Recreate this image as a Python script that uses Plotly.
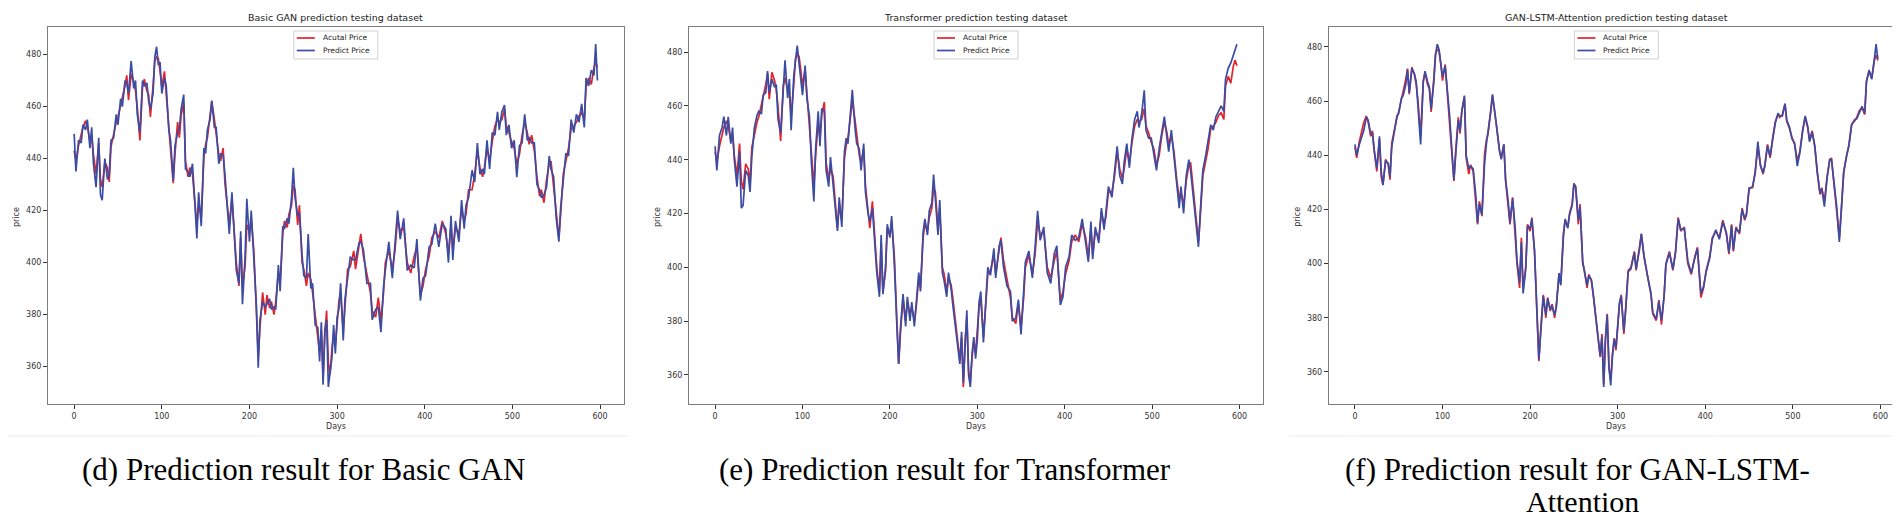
import plotly.graph_objects as go

# sampled days of the testing set
days = [0, 2, 5, 8, 10, 13, 15, 18, 20, 22,
        25, 28, 30, 32, 35, 38, 40, 42, 45, 48,
        50, 53, 55, 58, 60, 62, 65, 68, 70, 72,
        75, 78, 80, 83, 85, 87, 90, 92, 94, 96,
        98, 100, 103, 105, 108, 110, 113, 115, 118, 120,
        122, 125, 127, 130, 132, 135, 138, 140, 142, 145,
        148, 150, 152, 155, 157, 160, 162, 165, 167, 170,
        172, 175, 177, 180, 183, 185, 188, 190, 192, 195,
        197, 200, 202, 205, 208, 210, 212, 215, 218, 220,
        223, 225, 228, 230, 233, 235, 238, 240, 243, 245,
        248, 250, 252, 255, 257, 260, 262, 265, 267, 270,
        272, 275, 278, 280, 282, 284, 286, 288, 290, 292,
        294, 296, 298, 300, 302, 304, 307, 309, 312, 315,
        319, 321, 325, 327, 330, 334, 338, 340, 344, 347,
        350, 353, 355, 359, 363, 366, 369, 372, 376, 380,
        384, 388, 391, 395, 398, 401, 405, 408, 412, 416,
        420, 424, 427, 430, 432, 435, 439, 442, 445, 447,
        450, 454, 457, 460, 463, 466, 468, 471, 474, 477,
        480, 483, 485, 488, 491, 493, 496, 499, 502, 505,
        508, 511, 514, 517, 519, 522, 525, 528, 531, 533,
        536, 539, 542, 544, 547, 550, 553, 555, 558, 561,
        564, 567, 570, 573, 576, 579, 582, 584, 587, 590,
        593, 595, 597]

actual_price = [443, 439, 445, 449, 452, 454.5, 452.5, 447, 449, 441.5,
                434, 446, 432, 429, 438.5, 436.5, 431, 444.5, 449.5, 454,
                456, 460.5, 462.5, 468, 472, 462.5, 472.5, 469.5, 466, 460,
                447, 467.5, 470.5, 466, 464.5, 456, 468, 477.5, 479, 478.5,
                473.5, 467.5, 473.5, 465, 454, 444, 430.5, 441.5, 454, 448,
                456.5, 461.5, 439, 433, 436.5, 434, 424, 414.5, 423, 417.5,
                440.5, 445.5, 448, 457.5, 462, 455, 449, 441.5, 439, 444,
                430.5, 422, 414.5, 424.5, 411, 400, 391, 409.5, 391, 398.5,
                414.5, 412, 417, 404.5, 380, 364, 375, 388.5, 380, 387.5,
                382.5, 385, 380, 385, 396, 392.5, 411, 416, 413.5, 418.5,
                422, 429.5, 428, 414.5, 422, 400, 397.5, 391, 396, 393.5,
                388.5, 380, 372.5, 365.5, 374, 355.5, 372.5, 381.5, 361.5, 357,
                366.5, 372.5, 368, 376, 385, 388.5, 374, 383, 397.5, 398.5,
                404.5, 397.5, 406, 411, 402.5, 395, 388.5, 381.5, 379, 386.5,
                377.5, 388.5, 400, 404.5, 397.5, 404.5, 417, 412, 413.5, 400,
                396, 402.5, 406, 387.5, 391, 397.5, 402.5, 409.5, 412, 409.5,
                416, 411, 403.5, 414.5, 404.5, 413.5, 411, 420.5, 416, 418.5,
                428, 428, 434, 443, 436.5, 433, 436.5, 444, 439, 446.5,
                452.5, 455, 454, 455, 459, 452.5, 450, 446.5, 444, 438,
                441.5, 449, 454, 450, 445.5, 449, 443, 433, 425.5, 428,
                423, 432, 438, 439, 429.5, 420.5, 409.5, 418.5, 434, 439,
                444, 451.5, 452.5, 454, 456.5, 457.5, 455, 467.5, 471, 468.5,
                475, 477, 475]

pred_gan = [449.5, 435, 447, 446, 453, 451, 455, 444, 452, 438,
            429, 448, 426, 424, 440, 432, 434, 447, 448, 457,
            453, 463, 460, 470, 469, 465, 477.5, 467, 470, 457,
            450, 470, 468, 469, 462, 459, 465, 479, 483, 476,
            477, 465, 471, 468, 451, 447, 431.5, 445, 450, 451,
            459, 464.6, 436, 435, 433, 438, 421, 409.3, 427, 414,
            444, 442, 451, 455, 462.3, 452, 452, 438, 442, 441,
            434, 418, 411, 427, 409.7, 397, 392, 412, 384, 402,
            424.5, 408, 420, 401, 383, 359.6, 378, 385, 383, 384,
            386, 382, 383, 382, 399, 389, 414, 413, 417, 415,
            425, 436.4, 425, 418, 419, 403, 395, 394, 411, 390,
            392, 376, 375, 362, 377, 353, 374, 378, 352.2, 358,
            363, 376, 365, 379, 382, 392, 370, 386, 395, 402,
            401, 401, 407.5, 408, 405, 392, 392, 378, 382, 383,
            373.2, 391, 397, 408, 394, 408, 420, 409, 417, 397,
            399, 398, 409, 385.4, 394, 395, 406, 407, 415, 406,
            415, 413, 400, 418, 401, 416, 408, 424, 413, 422,
            425, 435.5, 431, 446, 434, 436, 434, 447, 436, 450,
            449, 458, 451, 458, 460.6, 449, 453, 444, 447, 432.8,
            445, 446, 457, 447, 448, 446, 446, 430, 428, 425,
            426, 429, 441, 436, 433, 417, 408, 421, 431, 442,
            441, 455, 450, 457, 454, 461, 452, 471, 468, 474,
            472, 484, 470]

pred_transformer = [445, 436, 449, 452, 456, 449, 456, 446, 452, 440,
                    430, 443, 422, 423, 436, 434, 428, 441, 452, 456.5,
                    458, 457, 464, 465, 473, 465, 470, 467, 468, 455,
                    450, 465, 477, 463, 470, 451, 471, 477, 482.5, 476,
                    471, 464, 475, 463, 456, 440, 424.5, 444, 458, 445,
                    459, 458, 436, 430, 441, 431, 421, 413.5, 426, 415,
                    443, 448, 446, 459, 466, 452, 446, 444, 436, 446,
                    428, 420, 417, 422, 409, 398, 389, 412, 390, 400,
                    416, 411, 419, 402, 378, 364, 377, 390, 378, 389,
                    380, 387, 378, 387, 398, 391, 413, 418, 412, 421,
                    424, 434.5, 426, 412, 425, 398, 395, 389, 398, 392,
                    386, 378, 370, 364, 376, 357, 370, 384, 360, 355.5,
                    368, 374, 366, 373, 387, 391, 372, 385, 400, 397,
                    407, 396, 408, 410, 400, 393, 391, 380, 381, 388,
                    375, 391, 402, 406, 396, 407, 421, 410, 415, 398,
                    394, 405, 408, 386, 389, 400, 404, 412, 410, 411,
                    418, 409, 402, 417, 403, 415, 409, 422, 414, 420,
                    430, 426, 436, 445, 434, 431, 439, 446, 437, 448,
                    455, 458, 452, 457, 465.8, 451, 448, 448, 442, 436,
                    444, 451, 456, 448, 443, 451, 441, 431, 422, 430,
                    420, 434, 440, 436, 427, 418, 407.6, 420, 436, 441,
                    447, 453, 451, 456, 458, 460, 458, 470, 474, 476,
                    479, 481, 483]

pred_attention = [444, 440, 444, 447, 449, 454, 453, 448, 448, 442,
                  435, 447, 434, 429, 438, 437, 432, 443, 449, 454.5,
                  455.5, 461, 462, 466, 471.5, 463, 472, 470, 467, 459,
                  444, 467, 471, 467, 465, 457, 467, 477, 481, 479,
                  474, 469, 473, 466, 455, 445, 431, 440, 453, 449,
                  456, 462, 440, 435, 436, 435, 425, 415, 422, 418,
                  437, 444, 448.5, 456, 462.5, 456, 450, 442, 438.5, 444,
                  431, 423, 415, 424, 413, 401, 393, 408, 389, 398,
                  414, 413, 416.5, 405, 381, 364.5, 374, 388, 381, 387,
                  383, 384.5, 381, 384, 396.5, 392, 410, 416.5, 413, 418,
                  421.5, 429.5, 428.5, 416, 421, 401, 397, 392, 395.5, 394,
                  389, 381, 373, 366, 373, 354.5, 372, 381, 362, 355,
                  366, 372, 369, 379, 385.5, 388, 375, 382.5, 397, 398,
                  404, 398, 405.5, 411, 403, 395.5, 389, 382, 379.5, 386,
                  379, 388, 399.5, 404, 398, 404, 416.5, 412.5, 413, 401,
                  396.5, 402, 405.5, 389, 391.5, 397, 402, 409, 412.5, 409,
                  415.5, 411.5, 404, 414, 405, 413, 411.5, 420, 416.5, 418,
                  427.5, 428.5, 433.5, 445, 436, 433.5, 436, 443.5, 439.5, 446,
                  452, 455.5, 454.5, 454.5, 459, 453, 450.5, 446, 444.5, 436,
                  441, 448.5, 454.5, 450.5, 445, 448.5, 443.5, 433.5, 426, 427.5,
                  421, 431.5, 438.5, 438.5, 430, 421, 408, 418, 433.5, 439.5,
                  443.5, 451, 453, 453.5, 456, 458, 455.5, 467, 471.5, 468,
                  475.5, 481, 475.5]

titles = ["Basic GAN prediction testing dataset",
          "Transformer prediction testing dataset",
          "GAN-LSTM-Attention prediction testing dataset"]
captions = ["(d) Prediction result for Basic GAN",
            "(e) Prediction result for Transformer",
            "(f) Prediction result for GAN-LSTM-"]
x_ticks = [0, 100, 200, 300, 400, 500, 600]
y_ticks = [360, 380, 400, 420, 440, 460, 480]

W, H = 1900, 518
RED = "#e3232b"
BLUE = "#3a4ca3"
SPINE = "#7c7c7c"
FONT = "DejaVu Sans"
SERIF = "Liberation Serif"


def px(x, y):
    return x / W, 1 - y / H


def label(x, y, text, size, family=FONT, color="#222", xanchor="center", angle=0):
    # place a text centred vertically on pixel position (x, y)
    return dict(x=x / W, y=1 - y / H, xref="paper", yref="paper", text=text,
                showarrow=False, xanchor=xanchor, yanchor="middle", textangle=angle,
                font=dict(family=family, size=size, color=color))


# pixel boxes of the three plot areas (left, right)
panels = [(40, 615.6), (681, 1255), (1320.8, 1896)]
top_px, bottom_px = 19, 396
caption_x = [295, 936.5, 1569.5]
preds = [pred_gan, pred_transformer, pred_attention]

fig = go.Figure()
shapes = []
annotations = []

xpad = 0.05 * (max(days) - min(days))

for i, (left, right) in enumerate(panels):
    n = "" if i == 0 else str(i + 1)
    pred = preds[i]
    fig.add_trace(go.Scatter(x=days, y=actual_price, mode="lines", name="Acutal Price",
                             line=dict(color=RED, width=1.7), xaxis="x" + n, yaxis="y" + n,
                             showlegend=False))
    fig.add_trace(go.Scatter(x=days, y=pred, mode="lines", name="Predict Price",
                             line=dict(color=BLUE, width=1.7), xaxis="x" + n, yaxis="y" + n,
                             showlegend=False))

    lo = min(min(actual_price), min(pred))
    hi = max(max(actual_price), max(pred))
    ypad = 0.05 * (hi - lo)

    axis_common = dict(showgrid=False, zeroline=False, showline=True, linecolor=SPINE,
                       linewidth=1, mirror=True, ticks="outside", ticklen=4,
                       tickcolor="#333", tickfont=dict(family=FONT, size=8, color="#333"))
    fig.update_layout({
        "xaxis" + n: dict(domain=[left / W, right / W], anchor="y" + n,
                          range=[min(days) - xpad, max(days) + xpad],
                          tickvals=x_ticks, **axis_common),
        "yaxis" + n: dict(domain=[1 - bottom_px / H, 1 - top_px / H], anchor="x" + n,
                          range=[lo - ypad, hi + ypad], tickvals=y_ticks, **axis_common),
    })

    cx = (left + right) / 2
    annotations.append(label(cx, 10, titles[i], 9.5))
    annotations.append(label(cx, 418, "Days", 8, color="#333"))
    annotations.append(label(left - 31, 209, "price", 8, color="#333", angle=-90))

    # legend box (upper center)
    lx0, lx1 = cx - 42, cx + 42
    bx0, by0 = px(lx0, 23)
    bx1, by1 = px(lx1, 51)
    shapes.append(dict(type="rect", xref="paper", yref="paper", x0=bx0, x1=bx1, y0=by1, y1=by0,
                       line=dict(color="#d0d0d0", width=1), fillcolor="rgba(255,255,255,0.85)"))
    for name, col, ry in [("Acutal Price", RED, 30), ("Predict Price", BLUE, 42.5)]:
        sx0, sy = px(lx0 + 3, ry)
        sx1, _ = px(lx0 + 21, ry)
        shapes.append(dict(type="line", xref="paper", yref="paper", x0=sx0, x1=sx1, y0=sy, y1=sy,
                           line=dict(color=col, width=1.7)))
        annotations.append(label(lx0 + 27, ry, name, 7.5, xanchor="left"))

    annotations.append(label(caption_x[i], 461, captions[i], 31, family=SERIF, color="#000"))

annotations.append(label(1574, 493, "Attention", 30, family=SERIF, color="#000"))

# faint separators under the left and right figures
for x0, x1 in [(0, 620), (1281, 1900)]:
    shapes.append(dict(type="line", xref="paper", yref="paper", x0=x0 / W, x1=x1 / W,
                       y0=1 - 428 / H, y1=1 - 428 / H, line=dict(color="#ececec", width=1)))

fig.update_layout(width=W, height=H, margin=dict(l=0, r=0, t=0, b=0),
                  paper_bgcolor="white", plot_bgcolor="white",
                  shapes=shapes, annotations=annotations)

fig.write_html("out.html")
